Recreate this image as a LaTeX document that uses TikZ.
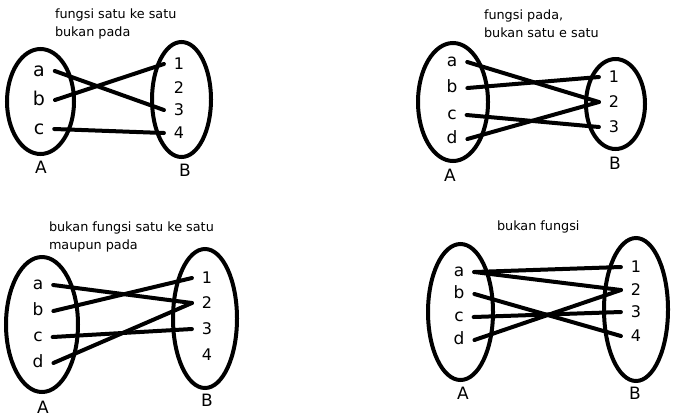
\documentclass[tikz,border=0pt]{standalone}
\usepackage{fontspec}
\setmainfont{DejaVu Sans}
\begin{document}
\begin{tikzpicture}[x=1pt, y=-1pt, line width=4pt, line cap=round,
    title/.style={anchor=base west, align=left, inner sep=0pt, font=\fontsize{12.8}{18}\selectfont},
    letter/.style={inner xsep=8pt, inner ysep=0pt, text height=9.3pt, text depth=0pt, font=\fontsize{17}{17}\selectfont},
    bigletter/.style={inner xsep=8pt, inner ysep=0pt, text height=10.4pt, text depth=0pt, font=\fontsize{19}{19}\selectfont},
    digit/.style={inner xsep=8pt, inner ysep=0pt, text height=11.7pt, text depth=0pt, font=\fontsize{16}{16}\selectfont},
    setname/.style={inner sep=0pt, text height=12.4pt, text depth=0pt, font=\fontsize{17}{17}\selectfont}]
    \useasboundingbox (0,0) rectangle (676,416);

    % satu ke satu, bukan pada
    \node[title] (t1) at (53,36) {fungsi satu ke satu\\bukan pada};
    \draw (40.5,101.5) ellipse [x radius=33.5, y radius=52.5];
    \draw (181.5,99.5) ellipse [x radius=29.5, y radius=57.5];
    \node[bigletter] (L1a) at (39,71) {a};
    \node[bigletter] (L1b) at (39,100) {b};
    \node[bigletter] (L1c) at (39,129) {c};
    \node[digit] (R1-1) at (179,64) {1};
    \node[digit] (R1-2) at (179,88) {2};
    \node[digit] (R1-3) at (179,110) {3};
    \node[digit] (R1-4) at (179,133) {4};
    \draw (L1a.east) -- (R1-3.west);
    \draw (L1b.east) -- (R1-1.west);
    \draw (L1c.east) -- (R1-4.west);
    \node[setname] (A1) at (41,167) {A};
    \node[setname] (B1) at (185,170) {B};

    % pada, bukan satu ke satu
    \node[title] (t2) at (482,37) {fungsi pada,\\bukan satu e satu};
    \draw (453,102) ellipse [x radius=35, y radius=59];
    \draw (615.5,104) ellipse [x radius=29.5, y radius=45];
    \node[letter] (L2a) at (452,62) {a};
    \node[letter] (L2b) at (452,88) {b};
    \node[letter] (L2c) at (452,115) {c};
    \node[letter] (L2d) at (452,139) {d};
    \node[digit] (R2-1) at (614,77) {1};
    \node[digit] (R2-2) at (614,102) {2};
    \node[digit] (R2-3) at (614,127) {3};
    \draw (L2a.east) -- (R2-2.west);
    \draw (L2b.east) -- (R2-1.west);
    \draw (L2c.east) -- (R2-3.west);
    \draw (L2d.east) -- (R2-2.west);
    \node[setname] (A2) at (450,175) {A};
    \node[setname] (B2) at (615,163) {B};

    % bukan satu ke satu, bukan pada
    \node[title] (t3) at (47,249) {bukan fungsi satu ke satu\\maupun pada};
    \draw (42,324.5) ellipse [x radius=36, y radius=67.5];
    \draw (205,318.5) ellipse [x radius=32, y radius=69.5];
    \node[letter] (L3a) at (38,285) {a};
    \node[letter] (L3b) at (38,311) {b};
    \node[letter] (L3c) at (38,337) {c};
    \node[letter] (L3d) at (38,363) {d};
    \node[digit] (R3-1) at (207,278) {1};
    \node[digit] (R3-2) at (207,303) {2};
    \node[digit] (R3-3) at (207,329) {3};
    \node[digit] (R3-4) at (207,355) {4};
    \draw (L3a.east) -- (R3-2.west);
    \draw (L3b.east) -- (R3-1.west);
    \draw (L3c.east) -- (R3-3.west);
    \draw (L3d.east) -- (R3-2.west);
    \node[setname] (A3) at (43,407) {A};
    \node[setname] (B3) at (207,400) {B};

    % bukan fungsi
    \node[title] (t4) at (495,230) {bukan fungsi};
    \draw (460.5,312) ellipse [x radius=32.5, y radius=68];
    \draw (636,309.5) ellipse [x radius=32, y radius=71.5];
    \node[letter] (L4a) at (459,272) {a};
    \node[letter] (L4b) at (459,294) {b};
    \node[letter] (L4c) at (459,317) {c};
    \node[letter] (L4d) at (459,340) {d};
    \node[digit] (R4-1) at (636,267) {1};
    \node[digit] (R4-2) at (636,290) {2};
    \node[digit] (R4-3) at (636,312) {3};
    \node[digit] (R4-4) at (636,336) {4};
    \draw (L4a.east) -- (R4-1.west);
    \draw (L4a.east) -- (R4-2.west);
    \draw (L4b.east) -- (R4-4.west);
    \draw (L4c.east) -- (R4-3.west);
    \draw (L4d.east) -- (R4-2.west);
    \node[setname] (A4) at (463,393) {A};
    \node[setname] (B4) at (635,393) {B};
\end{tikzpicture}
\end{document}
